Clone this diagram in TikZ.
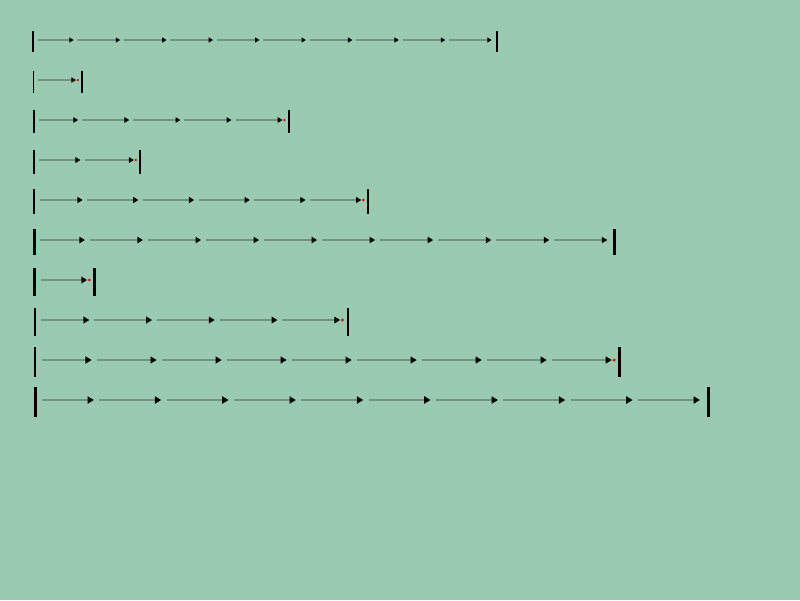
\documentclass[tikz,border=0pt]{standalone}
\usepackage{tikz}
\usetikzlibrary{calc,arrows.meta}
\definecolor{hopbg}{HTML}{9ACBB2}
\definecolor{hopgray}{HTML}{6E9580}
\definecolor{hopred}{HTML}{E01010}
\tikzset{
  hop/.style n args={3}{hopgray, line width=#1pt,
    -{Triangle[length=#2pt, width=#3pt, black]}},
  stopbar/.style={black, line width=#1pt},
  landdot/.style={fill=hopred}
}

\begin{document}
\begin{tikzpicture}[x=0.02cm, y=-0.02cm]
  % Backdrop
  \fill[hopbg] (0,0) rectangle (800,600);
  \useasboundingbox (0,0) rectangle (800,600);
  % One row per run: index / hops / unfinished
  \foreach \r/\n/\open in {0/10/0, 1/1/1, 2/5/1, 3/2/1, 4/6/1,
                           5/10/0, 6/1/1, 7/5/1, 8/9/1, 9/10/0} {
    \pgfmathsetmacro\f{1+0.05*\r}
    \pgfmathsetmacro\yy{40+40*\r}
    \pgfmathsetmacro\s{46.44*\f}
    \pgfmathsetmacro\lw{0.82*\f}
    \pgfmathsetmacro\tl{2.5*\f}
    \pgfmathsetmacro\tw{2.8*\f}
    \pgfmathsetmacro\bw{1.05*\f}
    % Landing points
    \foreach \k in {0,...,\n}
      \coordinate (p\r-\k) at (29+\k*\s, \yy);
    % Hops between landing points
    \foreach \k in {1,...,\n} {
      \pgfmathtruncatemacro\km{\k-1}
      \pgfmathsetmacro\gap{(\k==1 ? 9 : 2)*\f}
      \draw[hop={\lw}{\tl}{\tw}, shorten <=\gap*0.02cm,
            shorten >=1.7*\f*0.02cm] (p\r-\km) -- (p\r-\k);
    }
    % End bars
    \draw[stopbar=\bw] ($(p\r-0)+(4.3*\f,-9*\f)$) -- ($(p\r-0)+(4.3*\f,12*\f)$);
    \draw[stopbar=\bw] ($(p\r-\n)+(4*\f,-9*\f)$) -- ($(p\r-\n)+(4*\f,12*\f)$);
    % Unfinished run: mark the last landing point
    \ifnum\open=1
      \fill[landdot] (p\r-\n) circle[radius=1.2*\f*0.02cm];
    \fi
  }
\end{tikzpicture}
\end{document}
